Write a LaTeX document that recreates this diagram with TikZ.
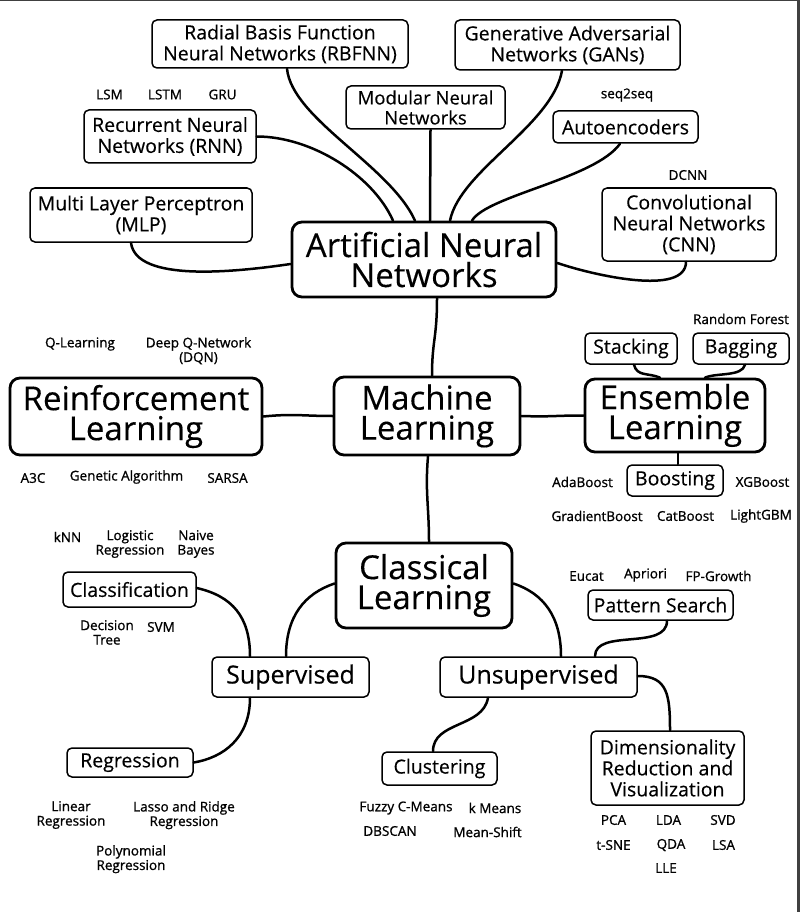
\documentclass[tikz,border=0pt]{standalone}
\usepackage{fontspec}
\setmainfont{Open Sans}[FakeBold=0.3]
\newfontfamily\labfont{Open Sans}[FakeBold=1]
\begin{document}
\begin{tikzpicture}[x=1pt,y=-1pt,
  big/.style={draw, line width=2.8pt, rounded corners=10pt, align=center, inner sep=0pt,
    font=\fontsize{33}{30}\selectfont},
  mid/.style={draw, line width=1.5pt, rounded corners=5pt, align=center, inner sep=0pt,
    font=\fontsize{19.5}{21}\selectfont},
  sup/.style={mid, font=\fontsize{25}{26}\selectfont},
  lab/.style={align=center, inner sep=0pt, font=\labfont\fontsize{13.5}{14.5}\selectfont},
  conn/.style={line width=2.5pt, line cap=round}
]
\useasboundingbox (0,0) rectangle (800,912);
\fill[white] (0,0) rectangle (800,912);
\fill[black!75] (0,0) rectangle (800,1.5);
\fill[black!75] (797,0) rectangle (800,912);

% main nodes
\node[big, minimum width=264, minimum height=75] (ann) at (424,259.5) {Artificial Neural\\Networks};
\node[big, minimum width=186, minimum height=78] (ml) at (427,416) {Machine\\Learning};
\node[big, minimum width=252, minimum height=77] (rl) at (136,416.5) {Reinforcement\\Learning};
\node[big, minimum width=180, minimum height=73] (el) at (675,415.5) {Ensemble\\Learning};
\node[big, minimum width=176, minimum height=85] (cl) at (424,585.5) {Classical\\Learning};

% ANN children
\node[mid, minimum width=256, minimum height=48] (rbf) at (280,44) {Radial Basis Function\\Neural Networks (RBFNN)};
\node[mid, minimum width=225, minimum height=50] (gan) at (567.5,45) {Generative Adversarial\\Networks (GANs)};
\node[mid, minimum width=159, minimum height=43, font=\fontsize{18.5}{20}\selectfont] (mod) at (425.5,107.5) {Modular Neural\\Networks};
\node[mid, minimum width=145, minimum height=32] (ae) at (625.5,127) {Autoencoders};
\node[mid, minimum width=172, minimum height=53] (rnn) at (170,136.5) {Recurrent Neural\\Networks (RNN)};
\node[mid, minimum width=222, minimum height=54] (mlp) at (141,215) {Multi Layer Perceptron\\(MLP)};
\node[mid, minimum width=174, minimum height=73] (cnn) at (689,224.5) {Convolutional\\Neural Networks\\(CNN)};

% Ensemble children
\node[mid, minimum width=92, minimum height=31] (stack) at (631,348.5) {Stacking};
\node[mid, minimum width=96, minimum height=31] (bag) at (741,348.5) {Bagging};
\node[mid, minimum width=96, minimum height=31] (boost) at (675,480.5) {Boosting};

% Classical children
\node[sup, minimum width=157, minimum height=40] (sv) at (290.5,677) {Supervised};
\node[sup, minimum width=197, minimum height=40] (us) at (538.5,677) {Unsupervised};
\node[mid, minimum width=133, minimum height=35] (clf) at (129.5,589.5) {Classification};
\node[mid, minimum width=126, minimum height=29] (reg) at (130,762.5) {Regression};
\node[mid, minimum width=145, minimum height=30] (ps) at (660.5,605) {Pattern Search};
\node[mid, minimum width=115, minimum height=33] (clu) at (439.5,768.5) {Clustering};
\node[mid, minimum width=153, minimum height=74] (dim) at (667.5,768) {Dimensionality\\Reduction and\\Visualization};

% labels
\node[lab] (l1) at (109.5,94.5) {LSM};
\node[lab] (l2) at (165,94.5) {LSTM};
\node[lab] (l3) at (222.5,94.5) {GRU};
\node[lab] (l4) at (627,95) {seq2seq};
\node[lab] (l5) at (688,175) {DCNN};
\node[lab] (l6) at (80,344) {Q-Learning};
\node[lab, anchor=north] (l7) at (198.5,337) {Deep Q-Network\\(DQN)};
\node[lab] (l8) at (33,478) {A3C};
\node[lab] (l9) at (126.5,477) {Genetic Algorithm};
\node[lab] (l10) at (227.5,478) {SARSA};
\node[lab] (l11) at (741,319) {Random Forest};
\node[lab] (l12) at (582.5,482) {AdaBoost};
\node[lab] (l13) at (762.5,482) {XGBoost};
\node[lab] (l14) at (597,516) {GradientBoost};
\node[lab] (l15) at (685.5,516) {CatBoost};
\node[lab] (l16) at (761,516) {LightGBM};
\node[lab] (l17) at (67.5,537) {kNN};
\node[lab, anchor=north] (l18) at (130,530) {Logistic\\Regression};
\node[lab, anchor=north] (l19) at (196,530) {Naive\\Bayes};
\node[lab, anchor=north] (l20) at (107,620) {Decision\\Tree};
\node[lab] (l21) at (161,627) {SVM};
\node[lab, anchor=north] (l22) at (71,801) {Linear\\Regression};
\node[lab, anchor=north] (l23) at (184,801) {Lasso and Ridge\\Regression};
\node[lab, anchor=north] (l24) at (131,845) {Polynomial\\Regression};
\node[lab] (l25) at (586.5,576) {Eucat};
\node[lab] (l26) at (645.5,575) {Apriori};
\node[lab] (l27) at (718.5,576) {FP-Growth};
\node[lab] (l28) at (406,808) {Fuzzy C-Means};
\node[lab] (l29) at (495,808) {k Means};
\node[lab] (l30) at (390,831) {DBSCAN};
\node[lab] (l31) at (487.5,832) {Mean-Shift};
\node[lab] (l32) at (613.5,820) {PCA};
\node[lab] (l33) at (668.5,820) {LDA};
\node[lab] (l34) at (723,820) {SVD};
\node[lab] (l35) at (613.5,845) {t-SNE};
\node[lab] (l36) at (671,845) {QDA};
\node[lab] (l37) at (723.5,845) {LSA};
\node[lab] (l38) at (666,868) {LLE};

% connectors: ANN
\draw[conn] (rnn.east) .. controls +(55,0) and +(-20,-45) .. ([xshift=-31pt]ann.north);
\draw[conn] ([xshift=7pt]rbf.south) .. controls +(5,50) and +(-25,-55) .. ([xshift=-9pt]ann.north);
\draw[conn] ([xshift=5pt]mod.south) -- ([xshift=6pt]ann.north);
\draw[conn] ([xshift=-5.5pt]gan.south) .. controls +(-10,55) and +(10,-50) .. ([xshift=26pt]ann.north);
\draw[conn] ([xshift=-5.5pt]ae.south) .. controls +(-25,35) and +(15,-25) .. ([xshift=48pt]ann.north);
\draw[conn] ([xshift=-3pt]cnn.south) .. controls +(0,35) and +(35,12) .. ([yshift=-3.5pt]ann.east);
\draw[conn] ([xshift=-10pt]mlp.south) .. controls +(5,40) and +(-55,8) .. ([yshift=-4.5pt]ann.west);

% ML connections
\draw[conn] ([xshift=13pt]ann.south) .. controls +(0,40) and +(0,-35) .. ([xshift=5pt]ml.north);
\draw[conn] (rl.east) .. controls +(30,-3) and +(-30,0) .. (ml.west);
\draw[conn] (ml.east) .. controls +(30,1) and +(-30,0) .. (el.west);
\draw[conn] ([xshift=1pt]ml.south) .. controls +(-3,35) and +(0,-35) .. ([xshift=5pt]cl.north);

% Ensemble
\draw[conn] ([xshift=3pt]stack.south) .. controls +(3,12) and +(-12,-5) .. ([xshift=-15pt]el.north);
\draw[conn] ([xshift=4pt]bag.south) .. controls +(-3,12) and +(12,-5) .. ([xshift=30pt]el.north);
\draw[conn, line width=2pt] ([xshift=3pt]el.south) -- ([xshift=3pt]boost.north);

% Classical
\draw[conn] ([yshift=2pt]cl.west) .. controls +(-30,10) and +(0,-40) .. ([xshift=-4.5pt]sv.north);
\draw[conn] ([yshift=2pt]cl.east) .. controls +(30,10) and +(0,-40) .. ([xshift=22.5pt]us.north);
\draw[conn] ([yshift=1.5pt]clf.east) .. controls +(35,8) and +(0,-40) .. ([xshift=-40.5pt]sv.north);
\draw[conn] ([xshift=-40.5pt]sv.south) .. controls +(0,40) and +(30,-5) .. (reg.east);
\draw[conn] ([xshift=56.5pt]us.north) .. controls +(0,-28) and +(0,30) .. ([xshift=6.5pt]ps.south);
\draw[conn] ([xshift=-50.5pt]us.south) .. controls +(-5,30) and +(0,-30) .. ([xshift=-6.5pt]clu.north);
\draw[conn] ([yshift=1pt]us.east) .. controls +(30,0) and +(0,-35) .. ([xshift=2.5pt]dim.north);
\end{tikzpicture}
\end{document}
